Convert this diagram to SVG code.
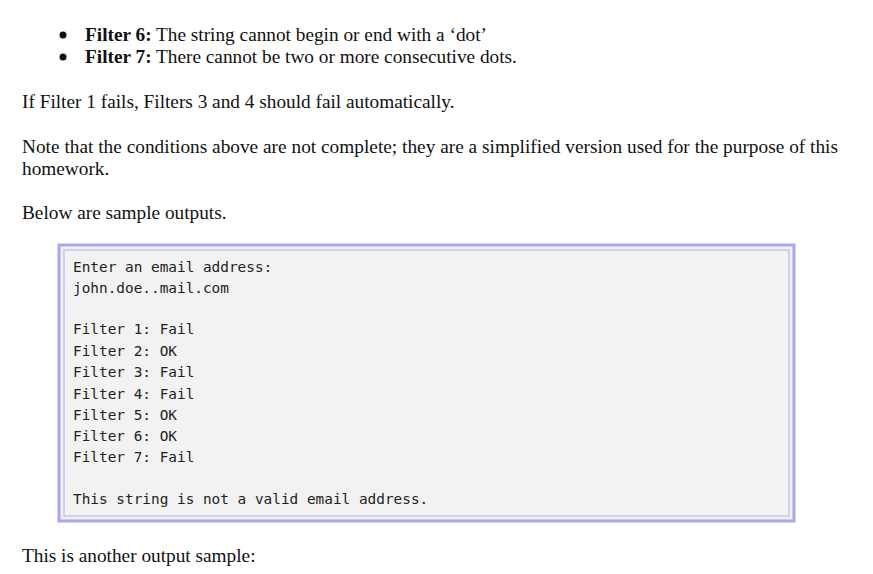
<svg xmlns="http://www.w3.org/2000/svg" width="873" height="574" viewBox="0 0 873 574">
<style>
.s{font-family:"Liberation Serif",serif;font-size:19.3px;fill:#111}
.b{font-weight:bold}
.m{font-family:"DejaVu Sans Mono","Liberation Mono",monospace;font-size:14.4px;fill:#222}
</style>
<rect width="873" height="574" fill="#fff"/>
<circle cx="63" cy="35" r="3.5" fill="#111"/>
<circle cx="63" cy="57" r="3.5" fill="#111"/>
<text class="s" x="85" y="41"><tspan class="b">Filter 6:</tspan> The string cannot begin or end with a ‘dot’</text>
<text class="s" x="85" y="63"><tspan class="b">Filter 7:</tspan> There cannot be two or more consecutive dots.</text>
<text class="s" x="22" y="108">If Filter 1 fails, Filters 3 and 4 should fail automatically.</text>
<text class="s" x="22" y="153" textLength="816">Note that the conditions above are not complete; they are a simplified version used for the purpose of this</text>
<text class="s" x="22" y="175">homework.</text>
<text class="s" x="22" y="219">Below are sample outputs.</text>
<rect x="59" y="245" width="735" height="276" fill="#f2f2f2" stroke="#a7a7f0" stroke-width="3"/>
<rect x="64" y="250" width="725" height="266" fill="none" stroke="#c4c4f5" stroke-width="1.5"/>
<g class="m">
<text x="73" y="272">Enter an email address:</text>
<text x="73" y="293">john.doe..mail.com</text>
<text x="73" y="334">Filter 1: Fail</text>
<text x="73" y="356">Filter 2: OK</text>
<text x="73" y="377">Filter 3: Fail</text>
<text x="73" y="399">Filter 4: Fail</text>
<text x="73" y="420">Filter 5: OK</text>
<text x="73" y="441">Filter 6: OK</text>
<text x="73" y="462">Filter 7: Fail</text>
<text x="73" y="504">This string is not a valid email address.</text>
</g>
<text class="s" x="22" y="562">This is another output sample:</text>
</svg>
